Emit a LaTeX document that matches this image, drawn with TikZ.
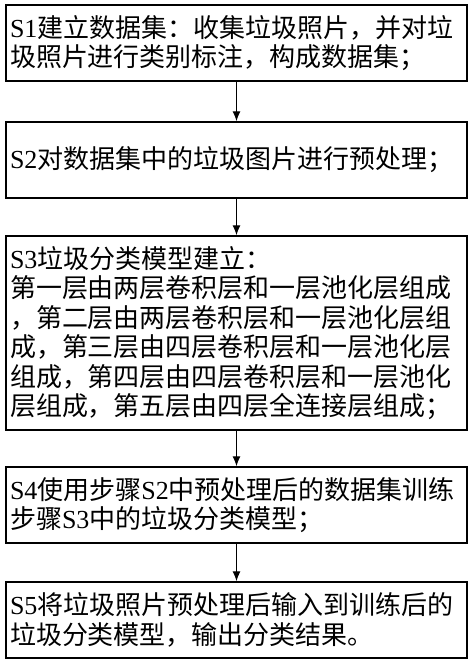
\documentclass[tikz,border=0pt]{standalone}
\usepackage{fontspec}
\setmainfont{Liberation Serif}
\newfontfamily\cjk{Noto Sans CJK SC}
\usetikzlibrary{arrows.meta}

\begin{document}
\begin{tikzpicture}[
    x=1pt, y=1pt,
    every node/.style={font=\cjk\fontsize{26}{29.5}\selectfont},
    stepbox/.style={draw=black, line width=1.4pt, fill=white,
                    minimum width=461pt, text width=453pt, align=left,
                    inner xsep=4pt, inner ysep=2pt},
    flow/.style={line width=1.3pt, -{Latex[length=10pt, width=8pt]}},
]
\useasboundingbox (0,0) rectangle (474,-665);

% ── Pasos del proceso ──
\node[stepbox, minimum height=76pt] (s1) at (236.5,-43)
    {\textrm{S1}建立数据集：收集垃圾照片，并对垃\\圾照片进行类别标注，构成数据集；};
\node[stepbox, minimum height=76pt] (s2) at (236.5,-160)
    {\textrm{S2}对数据集中的垃圾图片进行预处理；};
\node[stepbox, minimum height=194pt] (s3) at (236.5,-333)
    {\textrm{S3}垃圾分类模型建立：\\
     第一层由两层卷积层和一层池化层组成\\
     ，第二层由两层卷积层和一层池化层组\\
     成，第三层由四层卷积层和一层池化层\\
     组成，第四层由四层卷积层和一层池化\\
     层组成，第五层由四层全连接层组成；};
\node[stepbox, minimum height=76pt] (s4) at (236.5,-505)
    {\textrm{S4}使用步骤\textrm{S2}中预处理后的数据集训练\\步骤\textrm{S3}中的垃圾分类模型；};
\node[stepbox, minimum height=76pt] (s5) at (236.5,-620)
    {\textrm{S5}将垃圾照片预处理后输入到训练后的\\垃圾分类模型，输出分类结果。};

% ── Flechas ──
\draw[flow] (s1.south) -- (s2.north);
\draw[flow] (s2.south) -- (s3.north);
\draw[flow] (s3.south) -- (s4.north);
\draw[flow] (s4.south) -- (s5.north);
\end{tikzpicture}
\end{document}
